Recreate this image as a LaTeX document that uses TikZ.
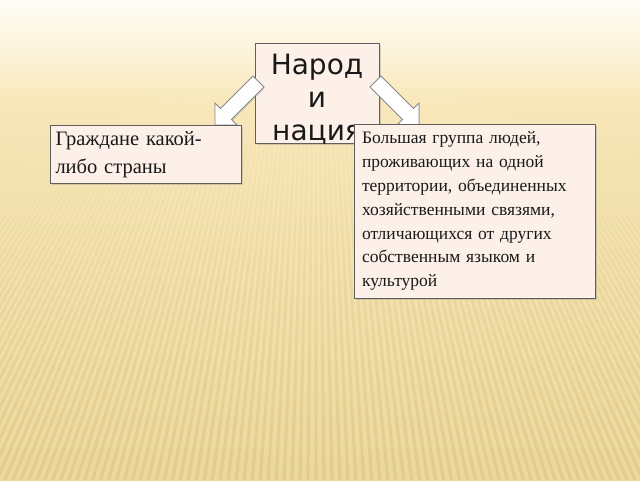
\documentclass[tikz,border=0pt]{standalone}
\usepackage{fontspec}
\setmainfont{Liberation Serif}
\newfontfamily\narodfont{DejaVu Sans}
\usetikzlibrary{positioning,shadows,fadings}

\definecolor{boxfill}{RGB}{252,240,232}
\definecolor{boxline}{RGB}{95,95,95}
\definecolor{bgtop}{RGB}{254,252,245}
\definecolor{bgmid}{RGB}{250,234,190}
\definecolor{bgbot}{RGB}{236,216,158}
\definecolor{stripecol}{RGB}{215,190,115}
\definecolor{arrowline}{RGB}{135,135,135}
\definecolor{textcol}{RGB}{25,25,25}

\tikzset{
  box/.style={draw=boxline, line width=1pt, fill=boxfill, text=textcol,
    drop shadow={shadow xshift=1.5pt, shadow yshift=-1.5pt, opacity=0.3}},
  blockarrow/.style={draw=arrowline, fill=white, line width=0.8pt, line join=miter,
    drop shadow={shadow xshift=1pt, shadow yshift=-1pt, opacity=0.25}}
}

\begin{document}
\begin{tikzpicture}[x=1pt, y=1pt]
    \useasboundingbox (0,0) rectangle (640,480);
    % background with stripes
    \begin{scope}
        \clip (0,0) rectangle (640,480);
        \shade[top color=bgmid, bottom color=bgbot] (0,0) rectangle (640,381);
        \shade[top color=bgtop, bottom color=bgmid] (0,380) rectangle (640,480);
        \draw[stripecol, line width=3pt, opacity=0.45, path fading=north]
            \foreach \x in {-416,-408,...,1056} {(\x,0) -- ({0.4356*\x+180.6},412)};
    \end{scope}
    % top box
    \node[box, inner sep=0pt, minimum width=124, minimum height=100, align=center,
        font=\narodfont\fontsize{28}{33}\selectfont] (narod) at (317,386)
        {\rule{0pt}{30pt}Народ\\и\\нация};
    % arrows
    \begin{scope}[shift={(258.5,398.5)}, rotate=225]
        \draw[blockarrow] (0,-7.8) -- (46,-7.8) -- (46,-15.5) -- (61.5,0) -- (46,15.5) -- (46,7.8) -- (0,7.8) -- cycle;
    \end{scope}
    \begin{scope}[shift={(375.5,398.5)}, rotate=-45]
        \draw[blockarrow] (0,-7.8) -- (46,-7.8) -- (46,-15.5) -- (61.5,0) -- (46,15.5) -- (46,7.8) -- (0,7.8) -- cycle;
    \end{scope}
    % lower boxes
    \node[box, anchor=north west, text width=181, inner xsep=5, inner ysep=6,
        minimum height=58, align=left, font=\fontsize{20.5}{28}\selectfont] (grazhdane) at (50,355)
        {Граждане какой-\\либо страны};
    \node[box, anchor=north west, text width=226, inner xsep=7.5, inner ysep=7.5,
        minimum height=173, align=left, font=\fontsize{17.5}{23.8}\selectfont] (gruppa) at (354,356)
        {Большая группа людей,\\проживающих на одной\\территории, объединенных\\хозяйственными связями,\\отличающихся от других\\собственным языком и\\культурой};
\end{tikzpicture}
\end{document}
